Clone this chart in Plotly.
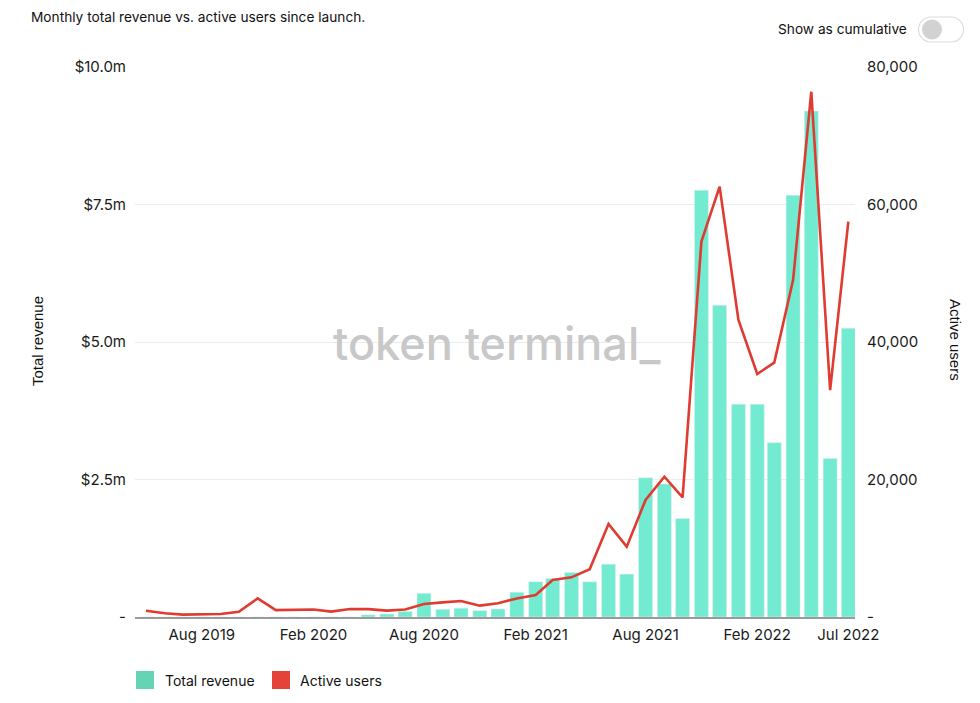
import plotly.graph_objects as go

months = [f"{y}-{m:02d}-01" for y, m in
          [(2019, m) for m in range(5, 13)] + [(2020, m) for m in range(1, 13)] +
          [(2021, m) for m in range(1, 13)] + [(2022, m) for m in range(1, 8)]]

revenue_m = [0, 0, 0, 0, 0, 0, 0, 0,
             0, 0, 0, 0, 0.04, 0.055, 0.10, 0.43, 0.14, 0.16, 0.115, 0.145,
             0.45, 0.64, 0.70, 0.81, 0.64, 0.96, 0.78, 2.53, 2.42, 1.79, 7.76, 5.67,
             3.87, 3.87, 3.17, 7.67, 9.20, 2.88, 5.25]

active_users = [900, 540, 340, 350, 440, 770, 2700, 1000,
                1000, 1100, 780, 1160, 1150, 920, 1100, 1900, 2130, 2330, 1650, 2000,
                2700, 3200, 5380, 5770, 6940, 13530, 10230, 17020, 20400, 17400, 54600, 62600,
                43200, 35350, 37000, 49000, 76400, 33000, 57500]

x_tick_vals = ["2019-08-01", "2020-02-01", "2020-08-01", "2021-02-01", "2021-08-01", "2022-02-01", "2022-07-01"]
x_tick_text = ["Aug 2019", "Feb 2020", "Aug 2020", "Feb 2021", "Aug 2021", "Feb 2022", "Jul 2022"]
left_tick_vals = [0, 2.5, 5, 7.5, 10]
left_tick_text = ["-", "$2.5m", "$5.0m", "$7.5m", "$10.0m"]
right_tick_vals = [0, 20000, 40000, 60000, 80000]
right_tick_text = ["-", "20,000", "40,000", "60,000", "80,000"]

BAR = "#72ebd0"
RED = "#e03b30"
FONT = "Inter"
TXT = "#1a1a1a"

fig = go.Figure()
fig.add_trace(go.Bar(x=months, y=revenue_m, name="Total revenue", marker_color=BAR,
                     width=[23 * 86400000] * len(months), showlegend=False))
fig.add_trace(go.Scatter(x=months, y=active_users, name="Active users", yaxis="y2",
                         mode="lines", line=dict(color=RED, width=2.6), showlegend=False))

# page body has an 8px margin: figure is 964x687 placed at (8, 8)
fig.update_layout(
    width=964, height=687,
    margin=dict(l=127, r=117, t=59, b=78),
    paper_bgcolor="white", plot_bgcolor="white",
    font=dict(family=FONT, size=15, color=TXT),
    xaxis=dict(type="date", range=["2019-04-13", "2022-07-12"],
               tickvals=x_tick_vals, ticktext=x_tick_text, showgrid=False,
               showline=True, linecolor="#9a9a9a", linewidth=2, ticks="",
               ticklabelstandoff=3, tickfont=dict(size=15, color=TXT)),
    yaxis=dict(range=[0, 10], tickvals=left_tick_vals, ticktext=left_tick_text,
               showgrid=True, gridcolor="#ececec", gridwidth=1, zeroline=False,
               ticks="", ticklabelstandoff=8, tickfont=dict(size=15, color=TXT)),
    yaxis2=dict(range=[0, 80000], overlaying="y", side="right",
                tickvals=right_tick_vals, ticktext=right_tick_text,
                showgrid=False, zeroline=False, ticks="", ticklabelstandoff=11,
                tickfont=dict(size=15, color=TXT)),
)

# helpers: screenshot pixel -> paper coordinates
def px_x(p):
    return (p - 135) / 720

def px_y(p):
    return (617 - p) / 550

ann = []
ann.append(dict(text="Monthly total revenue vs. active users since launch.", x=px_x(29), y=px_y(17),
                xref="paper", yref="paper", xanchor="left", yanchor="middle", showarrow=False,
                font=dict(size=13.7, color="#111")))
ann.append(dict(text="Show as cumulative", x=px_x(909), y=px_y(29), xref="paper", yref="paper",
                xanchor="right", yanchor="middle", showarrow=False, font=dict(size=13.7, color="#111")))
ann.append(dict(text="Total revenue", x=px_x(37), y=px_y(341), xref="paper", yref="paper",
                xanchor="center", yanchor="middle", textangle=-90, showarrow=False,
                font=dict(size=15, color="#111", family="Liberation Sans")))
ann.append(dict(text="Active users", x=px_x(956), y=px_y(340), xref="paper", yref="paper",
                xanchor="center", yanchor="middle", textangle=90, showarrow=False,
                font=dict(size=15, color="#111", family="Liberation Sans")))
ann.append(dict(text="token terminal_", x=px_x(497), y=px_y(343), xref="paper", yref="paper",
                xanchor="center", yanchor="middle", showarrow=False,
                font=dict(size=45, color="#c8c8c8", family=FONT, weight=500)))
ann.append(dict(text="Total revenue", x=px_x(163), y=px_y(680), xref="paper", yref="paper",
                xanchor="left", yanchor="middle", showarrow=False, font=dict(size=14, color="#111")))
ann.append(dict(text="Active users", x=px_x(298), y=px_y(680), xref="paper", yref="paper",
                xanchor="left", yanchor="middle", showarrow=False, font=dict(size=14, color="#111")))

shapes = []
# legend swatches
shapes.append(dict(type="rect", xref="paper", yref="paper", x0=px_x(136), x1=px_x(154),
                   y0=px_y(689), y1=px_y(671), fillcolor="#66d4b4", line=dict(width=0)))
shapes.append(dict(type="rect", xref="paper", yref="paper", x0=px_x(272), x1=px_x(290),
                   y0=px_y(689), y1=px_y(671), fillcolor="#e5433a", line=dict(width=0)))
# toggle switch
r = 12.5
k = 0.5523 * r
w = 10
pill = (f"M {-w},{-r} H {w} C {w+k},{-r} {w+r},{-k} {w+r},0 C {w+r},{k} {w+k},{r} {w},{r} "
        f"H {-w} C {-w-k},{r} {-w-r},{k} {-w-r},0 C {-w-r},{-k} {-w-k},{-r} {-w},{-r} Z")
shapes.append(dict(type="path", xref="paper", yref="paper", xsizemode="pixel", ysizemode="pixel",
                   xanchor=px_x(941), yanchor=px_y(29.5), path=pill,
                   fillcolor="white", line=dict(color="#dcdcdc", width=1.2)))
shapes.append(dict(type="circle", xref="paper", yref="paper", xsizemode="pixel", ysizemode="pixel",
                   xanchor=px_x(941), yanchor=px_y(29.5), x0=-19, x1=1, y0=-10, y1=10,
                   fillcolor="#d2d2d2", line=dict(width=0)))

fig.update_layout(annotations=ann, shapes=shapes)
fig.write_html("out.html")
